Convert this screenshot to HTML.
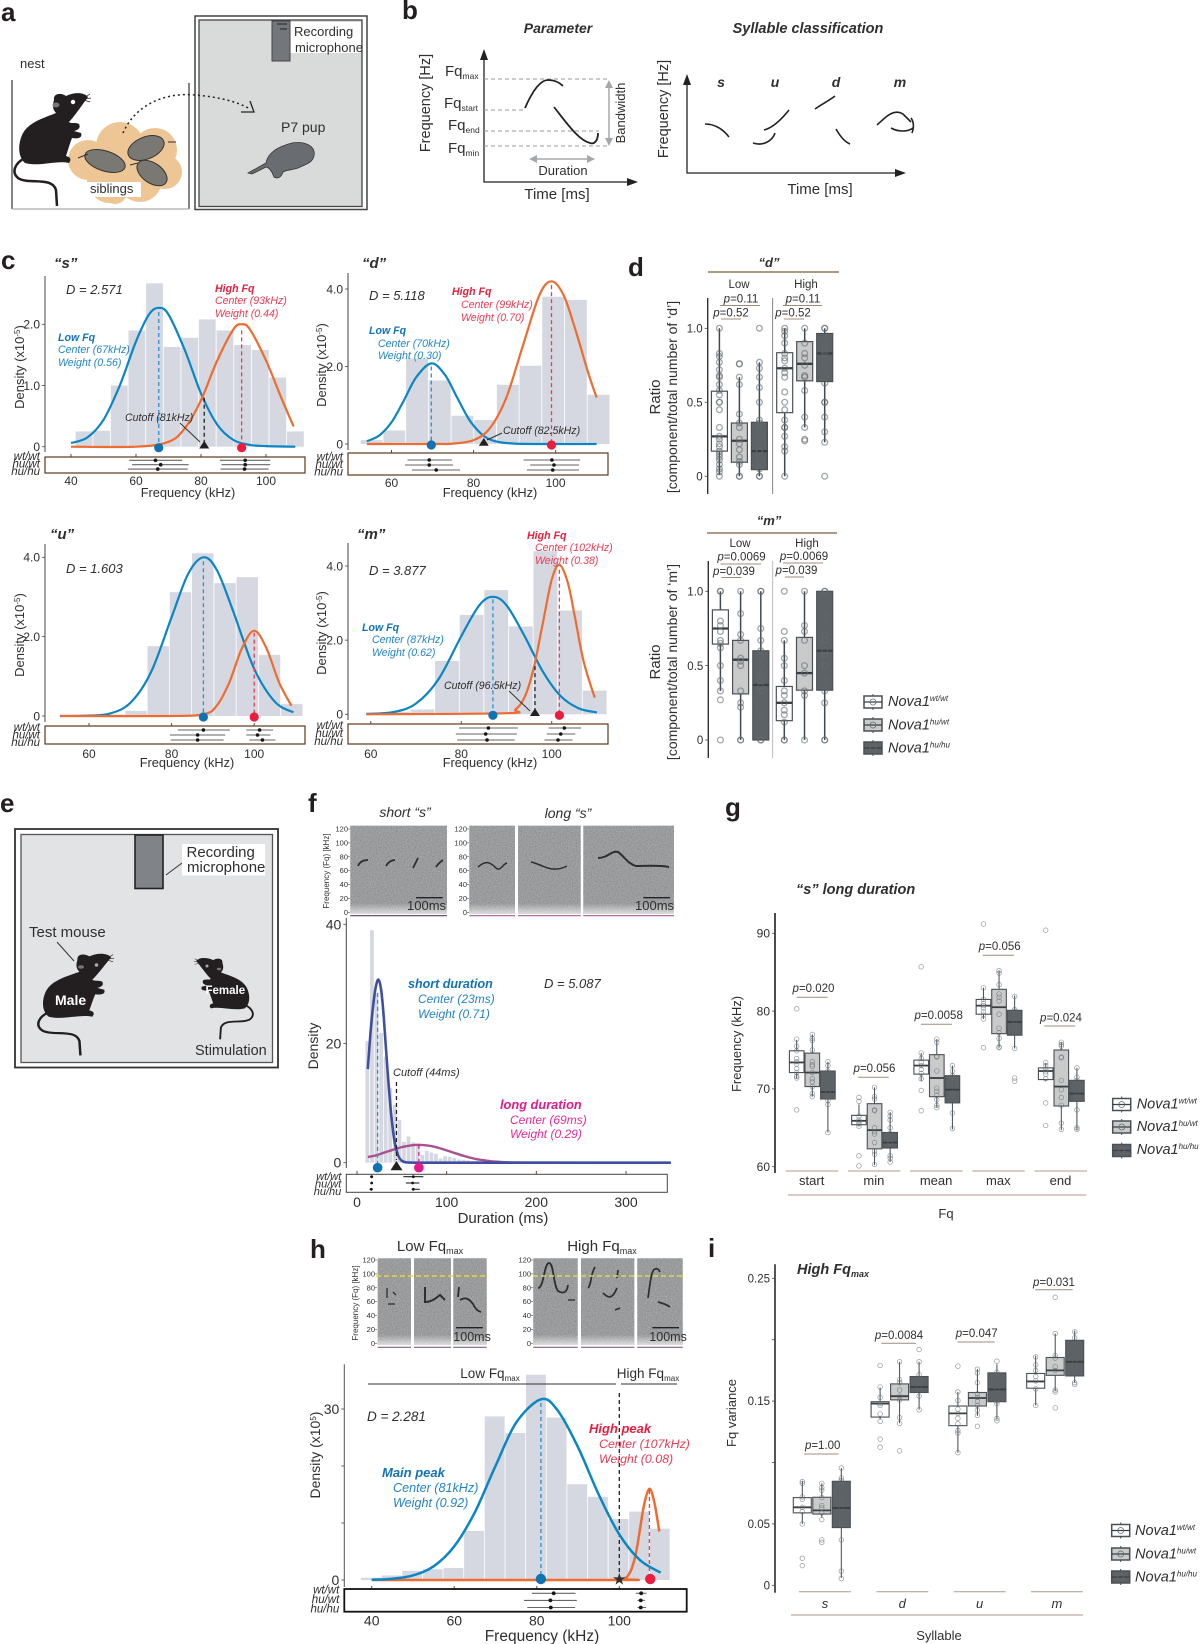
<!DOCTYPE html>
<html lang="en"><head><meta charset="utf-8"><title>Nova1 vocalization figure</title>
<style>
html,body{margin:0;padding:0;background:#fff}
svg{display:block;font-family:"Liberation Sans",sans-serif;fill:#2f2f2f}
.pl{font-size:26px;font-weight:700;fill:#231f20}
.i{font-style:italic}.b{font-weight:700}
.blue{fill:#2384c6}.blueb{fill:#1272b8}.red{fill:#ee3a52}.redb{fill:#ec1c3c}.pink{fill:#ec2a97}.pinkb{fill:#e6188a}
</style></head><body>
<svg id="figure" xmlns="http://www.w3.org/2000/svg" width="1200" height="1644" viewBox="0 0 1200 1644">
<defs>
<filter id="noise" x="0" y="0" width="100%" height="100%"><feTurbulence type="fractalNoise" baseFrequency="0.8" numOctaves="2" seed="3"/><feColorMatrix type="matrix" values="1 0 0 0 0 1 0 0 0 0 1 0 0 0 0 0 0 0 0 1"/></filter>
<linearGradient id="specfade" x1="0" y1="0" x2="0" y2="1"><stop offset="0.88" stop-color="#fff" stop-opacity="0"/><stop offset="1" stop-color="#fff" stop-opacity="0.65"/></linearGradient>
<g id="mouse-shape"><path d="M88,97 C84,92 74,92 66,96 C60,92 53,94 54,100 C52,106 53,110 56,113 C44,118 28,122 22,135 C17,147 19,158 25,163 C40,167 56,160 69,163 C72,159 70,157 66,156 C68,150 70,143 72,138 C77,139 83,138 81,133 L74,131 C78,130 81,128 79,124 C75,122 71,124 69,122 C73,118 80,108 88,97 Z" fill="#231f20"/><path d="M25,158 C15,163 11,172 18,178 C28,185 52,176 56,190 L57,206" fill="none" stroke="#231f20" stroke-width="2.5"/><path d="M84,98l6,-4M84,99l7,-1M84,100l6,2" fill="none" stroke="#231f20" stroke-width=".7"/></g>
</defs>

<!-- panel a -->
<g>
<text class="pl" x="1" y="21">a</text>
<text x="20" y="68" font-size="13">nest</text>
<path d="M12,80V209M189,83V209" fill="none" stroke="#444" stroke-width="1.3"/>
<path d="M12,209H189" fill="none" stroke="#aaa" stroke-width="1.2"/>
<g fill="#eec695"><circle cx="88" cy="160" r="20"/><circle cx="120" cy="146" r="24"/><circle cx="155" cy="150" r="22"/><circle cx="165" cy="172" r="17"/><circle cx="110" cy="180" r="23"/><circle cx="140" cy="180" r="22"/><circle cx="115" cy="192" r="12"/></g>
<use href="#mouse-shape"/>
<circle cx="73" cy="102" r="2.2" fill="#fff"/>
<ellipse cx="56" cy="105" rx="3.5" ry="2.5" fill="#77797c"/>
<g fill="#7a7873" stroke="#333" stroke-width="1">
<ellipse cx="105" cy="161" rx="21" ry="10" transform="rotate(18 105 161)"/><ellipse cx="146" cy="148" rx="19" ry="11" transform="rotate(-22 146 148)"/><ellipse cx="152" cy="173" rx="17" ry="10" transform="rotate(35 152 173)"/>
<path d="M78,158L88,154M168,142L176,142M130,165L138,163" fill="none"/></g>
<rect x="86" y="182" width="55" height="15" fill="#fff"/>
<text x="90" y="193" font-size="13">siblings</text>
<rect x="195" y="16" width="172" height="193.5" fill="#fff" stroke="#444" stroke-width="1.5"/>
<rect x="199" y="20" width="163" height="186.5" fill="#d9dbdb" stroke="#444" stroke-width="1.3"/>
<rect x="290" y="22" width="71" height="31" fill="#fff"/>
<rect x="272" y="21" width="18" height="40" fill="#73777c" stroke="#444"/>
<path d="M277,24H287M280,29H287" stroke="#222"/>
<text x="294" y="36" font-size="13">Recording</text>
<text x="295" y="52" font-size="13">microphone</text>
<text x="281" y="132" font-size="14">P7 pup</text>
<path d="M248,173L266,163C268,152 280,146 292,143C305,141 316,146 314,156C312,164 303,165 298,168C292,170 286,170 283,172C281,178 277,179 274,177C272,172 270,168 266,167L252,174Z" fill="#696d72" stroke="#333" stroke-width=".8"/>
<path d="M123,133C135,105 165,92 195,95C220,97 238,102 250,109" fill="none" stroke="#222" stroke-width="1.5" stroke-dasharray="2 3"/>
<path d="M250,101L254,112H241" fill="none" stroke="#222" stroke-width="1.3"/>
</g>

<!-- panel b -->
<g>
<text class="pl" x="402" y="19">b</text>
<text class="i b" x="558" y="33" font-size="14" text-anchor="middle">Parameter</text>
<path d="M484,54V182H632" fill="none" stroke="#222" stroke-width="1.3"/>
<polygon points="484,49 480,60 488,60" fill="#222"/>
<polygon points="638,182 627,178 627,186" fill="#222"/>
<text transform="rotate(-90 430 103)" x="430" y="103" font-size="14.5" text-anchor="middle">Frequency [Hz]</text>
<text x="445" y="76" font-size="15">Fq<tspan font-size="8.5" dy="3">max</tspan></text>
<text x="444" y="108" font-size="15">Fq<tspan font-size="8.5" dy="3">start</tspan></text>
<text x="448" y="130" font-size="15">Fq<tspan font-size="8.5" dy="3">end</tspan></text>
<text x="448" y="153" font-size="15">Fq<tspan font-size="8.5" dy="3">min</tspan></text>
<path d="M484,79H609M484,110H523M484,131H599M484,146H607" stroke="#999" stroke-dasharray="4 3" fill="none"/>
<path d="M525,108C532,92 540,80 548,80C555,80 560,83 563,86" fill="none" stroke="#222" stroke-width="1.8"/>
<path d="M554,107C566,122 578,140 590,143C596,145 598,138 598,133" fill="none" stroke="#222" stroke-width="1.8"/>
<path d="M609,84V142" stroke="#a5a8ab" stroke-width="1.5"/>
<path d="M609,80l-4,8h8zM609,146l-4,-8h8z" fill="#a5a8ab"/>
<text transform="rotate(-90 625 113)" x="625" y="113" font-size="13" text-anchor="middle">Bandwidth</text>
<path d="M533,159H591" stroke="#a5a8ab" stroke-width="1.5"/>
<path d="M529,159l8,-4v8zM595,159l-8,-4v8z" fill="#a5a8ab"/>
<text x="563" y="175" font-size="13" text-anchor="middle">Duration</text>
<text x="557" y="199" font-size="15" text-anchor="middle">Time [ms]</text>
<text class="i b" x="808" y="33" font-size="14.5" text-anchor="middle">Syllable classification</text>
<path d="M687,80V173H900" fill="none" stroke="#222" stroke-width="1.3"/>
<polygon points="687,74 683,85 691,85" fill="#222"/>
<polygon points="906,173 895,169 895,177" fill="#222"/>
<text transform="rotate(-90 668 109)" x="668" y="109" font-size="14.5" text-anchor="middle">Frequency [Hz]</text>
<text x="820" y="194" font-size="15" text-anchor="middle">Time [ms]</text>
<text class="i b" x="721" y="87" font-size="14" text-anchor="middle">s</text>
<text class="i b" x="775" y="87" font-size="14" text-anchor="middle">u</text>
<text class="i b" x="836" y="87" font-size="14" text-anchor="middle">d</text>
<text class="i b" x="900" y="87" font-size="14" text-anchor="middle">m</text>
<g fill="none" stroke="#222" stroke-width="1.6">
<path d="M705,124C714,124 722,128 729,137"/><path d="M753,143C762,146 772,142 775,133"/><path d="M764,130C772,128 781,120 789,110"/>
<path d="M815,109C822,104 830,100 835,96"/><path d="M836,129C840,136 845,142 850,144"/>
<path d="M877,125C885,118 893,108 903,114C907,118 909,120 911,122"/><path d="M891,128C898,132 908,132 913,128M911,118C914,122 914,128 912,133"/></g>
</g>

<!-- panel c annotations -->
<text class="pl" x="1" y="269">c</text>
<g id="c-s"></g>
<g id="c-d"></g>
<g id="c-u"></g>
<g id="c-m"></g>
<g font-size="10.6" font-style="italic">
<text class="b" x="54" y="268" font-size="15">“s”</text>
<text x="66" y="294" font-size="13">D = 2.571</text>
<text class="redb b" x="215" y="292">High Fq</text>
<text class="red" x="215" y="304">Center (93kHz)</text>
<text class="red" x="215" y="317">Weight (0.44)</text>
<text class="blueb b" x="58" y="341">Low Fq</text>
<text class="blue" x="58" y="353">Center (67kHz)</text>
<text class="blue" x="58" y="366">Weight (0.56)</text>
<text x="125" y="421">Cutoff (81kHz)</text>
<path d="M180,423L200,442" stroke="#333" fill="none"/>
<text class="b" x="362" y="268" font-size="15">“d”</text>
<text x="369" y="300" font-size="13">D = 5.118</text>
<text class="redb b" x="452" y="295">High Fq</text>
<text class="red" x="461" y="308">Center (99kHz)</text>
<text class="red" x="461" y="321">Weight (0.70)</text>
<text class="blueb b" x="369" y="334">Low Fq</text>
<text class="blue" x="378" y="347">Center (70kHz)</text>
<text class="blue" x="378" y="359">Weight (0.30)</text>
<text x="503" y="434">Cutoff (82.5kHz)</text>
<path d="M502,433L487,440" stroke="#333" fill="none"/>
<text class="b" x="50" y="539" font-size="15">“u”</text>
<text x="66" y="573" font-size="13">D = 1.603</text>
<text class="b" x="357" y="539" font-size="15">“m”</text>
<text x="369" y="575" font-size="13">D = 3.877</text>
<text class="redb b" x="527" y="539">High Fq</text>
<text class="red" x="535" y="551">Center (102kHz)</text>
<text class="red" x="535" y="564">Weight (0.38)</text>
<text class="blueb b" x="362" y="631">Low Fq</text>
<text class="blue" x="372" y="643">Center (87kHz)</text>
<text class="blue" x="372" y="656">Weight (0.62)</text>
<text x="444" y="689">Cutoff (96.5kHz)</text>
<path d="M509,691L530,711" stroke="#333" fill="none"/>
</g>

<!-- panel d -->
<text class="pl" x="628" y="276">d</text>
<g id="d-top"></g>
<g id="d-bot"></g>
<g id="d-text">
<text class="i b" x="769" y="267" font-size="13" text-anchor="middle">“d”</text>
<path d="M708,272H839" stroke="#7a5c3e" stroke-width="1.3"/>
<text x="739" y="288" font-size="11.5" text-anchor="middle">Low</text>
<text x="806" y="288" font-size="11.5" text-anchor="middle">High</text>
<text transform="rotate(-90 660 397)" x="660" y="397" font-size="15" text-anchor="middle">Ratio</text>
<text transform="rotate(-90 677 397)" x="677" y="397" font-size="14" text-anchor="middle">[component/total number of ‘d’]</text>
<text class="i b" x="769" y="525" font-size="13" text-anchor="middle">“m”</text>
<path d="M707,533H837" stroke="#7a5c3e" stroke-width="1.3"/>
<text x="740" y="547" font-size="11.5" text-anchor="middle">Low</text>
<text x="807" y="547" font-size="11.5" text-anchor="middle">High</text>
<text transform="rotate(-90 660 662)" x="660" y="662" font-size="15" text-anchor="middle">Ratio</text>
<text transform="rotate(-90 677 662)" x="677" y="662" font-size="14" text-anchor="middle">[component/total number of ‘m’]</text>
</g>

<!-- panel e -->
<g>
<text class="pl" x="0" y="812">e</text>
<rect x="15" y="829" width="263" height="238.5" fill="#fff" stroke="#333" stroke-width="1.8"/>
<rect x="21" y="834.5" width="251.5" height="228" fill="#e2e3e5" stroke="#555" stroke-width="1.3"/>
<rect x="135" y="835" width="28" height="53.5" fill="#808488" stroke="#222" stroke-width="1.6"/>
<path d="M166,875L182,863" stroke="#333"/>
<rect x="182" y="844" width="83" height="31.5" fill="#fff"/>
<text x="186.5" y="857" font-size="15">Recording</text>
<text x="187" y="872" font-size="15">microphone</text>
<text x="29" y="937" font-size="15">Test mouse</text>
<path d="M57,942L74,961" stroke="#333"/>
<use href="#mouse-shape" transform="translate(24 870) scale(.99 .9)"/>
<use href="#mouse-shape" transform="translate(264 891) scale(-.77 .72)"/>
<circle cx="96.5" cy="965" r="1.8" fill="#a9acae"/>
<ellipse cx="81" cy="967" rx="3" ry="1.8" fill="#777"/>
<circle cx="207" cy="966" r="1.5" fill="#a9acae"/>
<ellipse cx="219" cy="969" rx="2.2" ry="1.3" fill="#777"/>
<text class="b" x="55" y="1005" font-size="14" style="fill:#fff">Male</text>
<text class="b" x="205.5" y="994" font-size="11.5" style="fill:#fff">Female</text>
<text x="195" y="1055" font-size="14.5">Stimulation</text>
</g>

<!-- panel f -->
<text class="pl" x="308" y="812">f</text>
<g id="f-spec"></g>
<g id="f-chart"></g>
<g>
<text class="i" x="405" y="817" font-size="14" text-anchor="middle">short “s”</text>
<text class="i" x="568" y="818" font-size="14" text-anchor="middle">long “s”</text>
<g fill="none" stroke="#2e2e2e" stroke-width="1.8"><path d="M358,866C360,861 364,860 368,860"/><path d="M386,866C388,862 392,860 395,860"/><path d="M413,868C415,864 417,860 418,858"/><path d="M436,867C438,864 440,862 443,860"/></g>
<g fill="none" stroke="#2e2e2e" stroke-width="1.5"><path d="M478,867C486,860 490,862 496,868C500,872 503,864 507,863"/><path d="M531,862C540,864 548,870 556,869C562,869 565,867 567,866"/><path d="M598,858C608,858 612,850 618,852C624,856 628,864 636,866C646,866 658,865 669,867" stroke-width="2"/></g>
<text class="i b blueb" x="408" y="988" font-size="12.5">short duration</text>
<text class="i blue" x="418" y="1003" font-size="12">Center (23ms)</text>
<text class="i blue" x="418" y="1018" font-size="12">Weight (0.71)</text>
<text class="i" x="544" y="988" font-size="13">D = 5.087</text>
<text class="i" x="393" y="1076" font-size="11">Cutoff (44ms)</text>
<text class="i b pinkb" x="500" y="1109" font-size="12.8">long duration</text>
<text class="i pink" x="510" y="1124" font-size="12">Center (69ms)</text>
<text class="i pink" x="510" y="1138" font-size="12">Weight (0.29)</text>
<text x="503" y="1223" font-size="15" text-anchor="middle">Duration (ms)</text>
<text transform="rotate(-90 318 1046)" x="318" y="1046" font-size="14" text-anchor="middle">Density</text>
</g>

<!-- panel g -->
<text class="pl" x="725" y="816">g</text>
<text class="i b" x="796" y="894" font-size="14.5">“s” long duration</text>
<g id="g-chart"></g>
<text transform="rotate(-90 741 1044)" x="741" y="1044" font-size="13" text-anchor="middle">Frequency (kHz)</text>
<text x="946" y="1218" font-size="13" text-anchor="middle">Fq</text>
<path d="M788,1195H1086" stroke="#b09a8a"/>

<!-- panel h -->
<text class="pl" x="310" y="1258">h</text>
<g id="h-spec"></g>
<g id="h-chart"></g>
<g>
<text x="430" y="1251" font-size="15" text-anchor="middle">Low Fq<tspan font-size="9" dy="3">max</tspan></text>
<text x="602" y="1251" font-size="15" text-anchor="middle">High Fq<tspan font-size="9" dy="3">max</tspan></text>
<g fill="none" stroke="#2e2e2e" stroke-width="1.3">
<path d="M387,1288V1298M388,1304H395M393,1292L396,1295"/><path d="M425,1287L425,1302C432,1302 436,1298 440,1295L445,1300" stroke-width="2"/><path d="M459,1287L458,1297M460,1300C466,1296 470,1300 473,1304C476,1310 478,1311 481,1312" stroke-width="1.8"/>
<path d="M538,1288C544,1288 544,1263 549,1263C554,1263 553,1285 558,1291C563,1294 567,1293 568,1285" stroke-width="1.8"/><path d="M568,1300H575"/>
<path d="M588,1288C592,1284 590,1275 595,1267M603,1293C608,1298 612,1300 617,1288M618,1270L617,1278M615,1310L620,1308" stroke-width="1.7"/>
<path d="M648,1298C650,1285 651,1270 655,1269C658,1268 659,1270 660,1272M658,1302C662,1303 666,1304 670,1307" stroke-width="1.7"/></g>
<path d="M376,1276H487M533,1276H683" stroke="#e8d638" stroke-width="1.4" stroke-dasharray="5 3" fill="none"/>
<text x="490" y="1378" font-size="13.5" text-anchor="middle">Low Fq<tspan font-size="8" dy="3">max</tspan></text>
<text x="648" y="1378" font-size="13.5" text-anchor="middle">High Fq<tspan font-size="8" dy="3">max</tspan></text>
<path d="M368,1384H616M621,1384H677" stroke="#333" fill="none"/>
<text class="i" x="367" y="1421" font-size="13.5">D = 2.281</text>
<text class="i b blueb" x="382" y="1477" font-size="13">Main peak</text>
<text class="i blue" x="393" y="1492" font-size="12.6">Center (81kHz)</text>
<text class="i blue" x="393" y="1507" font-size="12.6">Weight (0.92)</text>
<text class="i b redb" x="589" y="1433" font-size="13">High peak</text>
<text class="i red" x="599" y="1448" font-size="12.4">Center (107kHz)</text>
<text class="i red" x="599" y="1463" font-size="12.4">Weight (0.08)</text>
<text x="542" y="1641" font-size="15.5" text-anchor="middle">Frequency (kHz)</text>
<text transform="rotate(-90 320 1455)" x="320" y="1455" font-size="14" text-anchor="middle">Density (x10<tspan font-size="8" dy="-4">5</tspan><tspan dy="4">)</tspan></text>
</g>

<!-- panel i -->
<text class="pl" x="708" y="1257">i</text>
<text class="i b" x="797" y="1274" font-size="14.5">High Fq<tspan font-size="9" dy="3">max</tspan></text>
<g id="i-chart"></g>
<text transform="rotate(-90 736 1413)" x="736" y="1413" font-size="13" text-anchor="middle">Fq variance</text>
<text x="939" y="1640" font-size="13" text-anchor="middle">Syllable</text>
<path d="M791,1615H1083" stroke="#b09a8a"/>
</svg>

<script>
/* ---------- density panel data (kHz, density x10^-5) ---------- */
const sBinStart = 41.3;
const sBinWidth = 5.42;
const sBars = [0.25,0.26,1.0,1.9,2.67,1.63,1.78,2.08,1.9,1.66,1.58,1.13,0.25];
const sLowFreq = [40,45,50,55,60,64,67,70,75,80,85,90,95,100,109];
const sLowDens = [0.06,0.15,0.44,1.0,1.72,2.16,2.27,2.16,1.58,0.87,0.36,0.11,0.03,0.01,0];
const sHighFreq = [40,60,70,75,80,85,90,92.5,95,100,105,108.5];
const sHighDens = [0,0,0.08,0.3,0.76,1.41,1.92,2.0,1.92,1.41,0.76,0.33];
const sXTicks = [40,60,80,100];
const sYTicks = [0,1,2];
const sYLabels = ['0','1.0','2.0'];
const sStripLow = [[57.9,66,74.2],[58.8,67.6,76.2],[57.5,66.7,75.9]];
const sStripHigh = [[85.8,93.6,101.3],[86.3,93.6,101.3],[86,93.4,100.8]];

const dBinStart = 52.4;
const dBinWidth = 5.53;
const dBars = [0.1,0.35,2.2,1.64,0.73,0.62,1.53,2.02,3.8,3.72,1.27];
const dLowFreq = [54,57,60,63,66,69.7,73,76,79,82,85,90,100,110];
const dLowDens = [0.07,0.22,0.56,1.12,1.72,2.08,1.79,1.2,0.62,0.25,0.08,0.01,0,0];
const dHighFreq = [54,70,75,80,84,88,92,96,99,102,105,108,110];
const dHighDens = [0,0,0.01,0.1,0.41,1.2,2.53,3.83,4.2,3.83,2.89,1.82,1.2];
const dXTicks = [60,80,100];
const dYTicks = [0,2,4];
const dYLabels = ['0','2.0','4.0'];
const dStripLow = [[63.9,69.2,74.7],[63.3,69.2,75],[65,70.9,76.7]];
const dStripHigh = [[92.2,99.1,106],[93.8,99.6,105.7],[93,99.3,105.7]];

const uBinStart = 57.9;
const uBinWidth = 5.39;
const uBars = [0.04,0.04,0.13,1.76,3.12,4.1,3.35,3.5,1.54,0.3];
const uLowFreq = [53,60,65,70,75,80,84,87.7,91,95,100,105,109.5];
const uLowDens = [0,0.01,0.06,0.33,1.1,2.49,3.58,4.0,3.67,2.61,1.19,0.36,0.09];
const uHighFreq = [53,80,88,91,94,97,100,103,106,109];
const uHighDens = [0,0,0.05,0.27,0.85,1.7,2.15,1.7,0.85,0.26];
const uXTicks = [60,80,100];
const uYTicks = [0,2,4];
const uYLabels = ['0','2.0','4.0'];
const uStripLow = [[81.5,87.7,94.1],[79.6,86.3,93],[79.8,86.3,92.6]];
const uStripHigh = [[98.1,101.3,104.6],[98.1,100.8,103.9],[98.8,102,105.1]];

const mBinStart = 63.25;
const mBinWidth = 5.44;
const mBars = [0.07,0.13,1.44,2.68,3.35,2.37,4.4,2.8,0.64];
const mLowFreq = [59,65,70,75,80,84,87,90,94,98,102,106,110];
const mLowDens = [0.01,0.06,0.29,0.95,2.11,2.94,3.17,2.94,2.11,1.16,0.49,0.16,0.05];
const mHighFreq = [59,90,92,94,96,98,100,101.7,103.5,105,107,109.5];
const mHighDens = [0,0.03,0.13,0.46,1.23,2.44,3.63,4.03,3.58,2.71,1.45,0.45];
const mXTicks = [60,80,100];
const mYTicks = [0,2,4];
const mYLabels = ['0','2.0','4.0'];
const mStripLow = [[79.5,86,92.5],[78.8,85.4,92.3],[79.1,85.7,91.8]];
const mStripHigh = [[99.3,102.8,106.5],[98.9,102,105.2],[98.4,101.4,104.6]];

/* ---------- duration (panel f) ---------- */
const fBinStart = 9;
const fBinWidth = 5.1;
const fBars = [20.4,39,28.4,21.8,17.8,12.5,9.7,7.2,3.5,4.4,3.4,3.0,1.3,2,1.7,1.5,0.7,1.1,1,0.8,0.55,0.5,0.4,0.3,0.3,0.2,0.15,0.1];
const fShortMs = [12,15,18,21,24,27,30,34,38,42,46,50,55,60,70,100,200,350];
const fShortDens = [15.7,21.6,26.3,29.5,30.7,28.9,24.1,15.6,8.2,3.4,1.16,0.32,0.05,0.01,0,0,0,0];
const fLongMs = [12,20,30,40,50,60,69,80,90,100,110,120,130,140,150,165,180,200,350];
const fLongDens = [0.95,1.19,1.67,2.17,2.61,2.9,3,2.86,2.53,2.07,1.57,1.1,0.71,0.43,0.24,0.09,0.03,0.01,0];
const fXTicks = [0,100,200,300];
const fYTicks = [0,20,40];
const fStrip = [[14.5,16.4,18],[15,16.4,17.5],[14,16,17.5]];
const fStripLong = [[51.7,62.8,74],[54.6,62,69.5],[61,62.8,70]];

/* ---------- Fq max (panel h) ---------- */
const hBinStart = 37.3;
const hBinWidth = 5;
const hBars = [0.4,0.8,1.6,1.9,2.1,8.6,28.7,25.8,36,28.5,16.8,14.6,10.7,12,9];
const hMainFreq = [40,45,50,55,60,65,70,75,81,85,90,95,100,105,110];
const hMainDens = [0.05,0.22,0.81,2.4,5.9,11.9,20,27.6,31.7,29.8,23.3,15,8,3.5,1.3];
const hPeakFreq = [40,100,101,102,103,104,105,106,107.3,108.5,109.7];
const hPeakDens = [0,0,0.15,0.65,2,4.6,8.8,13.2,16,13.6,8.5];
const hXTicks = [40,60,80,100];
const hYTicks = [0,30];
const hStripMain = [[78.8,84.1,89.4],[76.9,83.3,89.7],[77.7,83.4,89.3]];
const hStripPeak = [[104,105.3,106.6],[104.4,105.2,106.2],[104.4,105.2,106.5]];

/* ---------- shared labels ---------- */
const genotypeRows = ['wt/wt','hu/wt','hu/hu'];
const specTicks = [0,20,40,60,80,100,120];

/* ---------- ratio boxplot 'd' (Low wt,hu/wt,hu/hu, High wt,hu/wt,hu/hu) ---------- */
const ratioDQ1 = [0.17,0.095,0.045,0.43,0.645,0.64];
const ratioDMed = [0.27,0.24,0.17,0.73,0.76,0.83];
const ratioDQ3 = [0.575,0.36,0.365,0.835,0.91,0.965];
const ratioDLo = [0.01,0,0,0,0.33,0.23];
const ratioDHi = [1,0.67,0.77,1,1,1];
const ratioDPts = [
[0,0.03,0.05,0.08,0.11,0.13,0.15,0.17,0.2,0.22,0.25,0.27,0.33,0.45,0.5,0.5,0.55,0.58,0.62,0.67,0.68,0.72,0.77,0.81,0.83,1],
[0,0,0.08,0.1,0.13,0.18,0.22,0.25,0.33,0.36,0.42,0.62,0.67,0.76,0.76],
[0,0,0.05,0.1,0.17,0.17,0.25,0.33,0.36,0.38,0.5,0.6,0.67,0.73,0.77,1],
[0,0.17,0.2,0.27,0.33,0.33,0.38,0.45,0.5,0.57,0.67,0.7,0.73,0.78,0.8,0.83,0.9,0.95,0.98,1],
[0.24,0.25,0.33,0.4,0.58,0.67,0.68,0.75,0.8,0.83,0.9,1],
[0,0.23,0.3,0.4,0.5,0.5,0.63,0.67,0.75,0.83,0.85,0.9,1,1]];
/* ---------- ratio boxplot 'm' ---------- */
const ratioMQ1 = [0.645,0.31,0,0.13,0.335,0.335];
const ratioMMed = [0.75,0.54,0.37,0.25,0.45,0.6];
const ratioMQ3 = [0.875,0.67,0.6,0.36,0.69,1];
const ratioMLo = [0.33,0,0,0,0,0];
const ratioMHi = [1,1,1,0.67,1,1];
const ratioMPts = [
[0,0.27,0.33,0.4,0.5,0.62,0.65,0.67,0.73,0.77,0.8,1,1],
[0,0,0.22,0.25,0.33,0.5,0.53,0.55,0.67,0.71,0.85,1],
[0,0,0.17,0.33,0.36,0.4,0.43,0.5,0.56,0.6,0.67,0.75,1,1],
[0,0,0.12,0.17,0.2,0.25,0.3,0.33,0.4,0.5,0.55,0.67,0.73,1],
[0,0.3,0.33,0.45,0.5,0.67,0.73,0.77,1],
[0,0,0.25,0.33,0.4,0.5,0.5,0.57,0.6,0.67,0.67,0.71,0.83,1,1]];
const ratioTicks = [0,0.5,1];
const ratioLabels = ['0','0.5','1.0'];

/* ---------- panel g ---------- */
const fqCategories = ['start','min','mean','max','end'];
const fqQ1 = [72.1,70.3,68.7, 65.4,62.3,62.4, 71.9,69,68.2, 79.6,77.1,76.9, 71.2,67.8,68.4];
const fqMed = [73.4,72.1,69.6, 65.9,64.7,63.1, 73,71.4,69.9, 80.7,80.5,78.6, 72.3,70.3,69.4];
const fqQ3 = [74.9,74.6,72.3, 66.6,68.1,64.4, 73.7,74.4,71.7, 81.5,82.8,80.1, 72.7,75,71.1];
const fqLo = [71.3,69,64.4, 65.2,60.2,60.6, 71,67.6,64.8, 79,75.3,75.2, 71,64.7,64.7];
const fqHi = [76.3,77,73.5, 68,70.2,67, 74.6,76.4,73, 83,85.2,82, 73.3,76,72.7];
const fqPts = [
[80.3,76.4,75.5,74.9,73.9,73.5,73.2,72.6,72.1,71.6,71.4,67.3],
[77,76.5,76.2,75,73.5,73.1,72.9,72.1,71.3,70.9,70.3,69.4,69],
[73.5,73,72.3,71.2,69.6,69.1,68.5,68,64.4],
[68.9,68.4,66.5,66,65.8,65.5,65.2,61.4,60.1],
[70.2,69,68.7,67.3,67.2,65,64.5,64.2,63.1,62,61.6,60.3],
[67,66.5,66,65,64.3,63.1,63,61.4,61.1,60.6],
[85.7,74.6,73.9,73.4,73,72.5,72,71.3,69.8,67.2],
[76.4,76,74.2,74.1,72.3,70.1,69.7,69.2,68.6,67.9,67.6],
[73,72.3,71.7,71.5,69.5,69.2,66.9,64.9],
[91.2,83,81.5,81,80.7,80.4,79.9,79.5,79,75.3],
[85.2,84.9,83.4,82.2,81.8,81.3,79.6,77.8,77.2,76.5,75.3,75.4],
[81.9,80.2,80,78.7,78.2,77.6,75.2,71.4,71],
[90.4,73.4,73,72.5,72.2,71.9,71.3,68.2,65.3],
[76,75.7,75.5,74.1,74,71.1,69.9,68.9,67.9,65.6,64.8],
[72.7,71.5,71.1,69.9,69.3,69,67.3,65,64.8]];
const fqTicks = [60,70,80,90];

/* ---------- panel i ---------- */
const sylCategories = ['s','d','u','m'];
const varQ1 = [0.059,0.058,0.047, 0.137,0.151,0.157, 0.13,0.146,0.1495, 0.1605,0.171,0.1705];
const varMed = [0.0635,0.061,0.063, 0.148,0.154,0.1615, 0.14,0.1525,0.1595, 0.166,0.175,0.182];
const varQ3 = [0.0714,0.0717,0.0847, 0.1495,0.164,0.17, 0.146,0.157,0.173, 0.1725,0.1855,0.1995];
const varLo = [0.05,0.055,0.006, 0.135,0.132,0.143, 0.108,0.138,0.135, 0.1465,0.158,0.165];
const varHi = [0.085,0.083,0.0955, 0.161,0.182,0.182, 0.1575,0.176,0.18, 0.187,0.205,0.2075];
const varPts = [
[0.0844,0.083,0.072,0.07,0.0635,0.06,0.05,0.022,0.016],
[0.083,0.0795,0.0775,0.0715,0.065,0.063,0.059,0.0535,0.037,0.035],
[0.0955,0.0875,0.0855,0.0815,0.0705,0.063,0.0525,0.05,0.037,0.0115,0.0055],
[0.179,0.1615,0.153,0.148,0.1465,0.1395,0.1335,0.119,0.1125],
[0.182,0.1675,0.165,0.159,0.154,0.151,0.1365,0.132,0.1095],
[0.192,0.182,0.1715,0.1665,0.1615,0.154,0.143],
[0.1785,0.1575,0.1505,0.1435,0.14,0.136,0.1315,0.126,0.124,0.108],
[0.176,0.173,0.165,0.156,0.153,0.15,0.1465,0.1425,0.1385,0.1295],
[0.1825,0.1735,0.171,0.1595,0.15,0.148,0.136,0.134],
[0.186,0.1795,0.175,0.17,0.1665,0.16,0.1465],
[0.2345,0.205,0.187,0.185,0.178,0.175,0.159,0.1575,0.1445],
[0.2065,0.2015,0.1955,0.1825,0.1775,0.172,0.165,0.1635]];
const varTicks = [0,0.05,0.15,0.25];
const varLabels = ['0','0.05','0.15','0.25'];

/* ---------- helpers ---------- */
const NS = 'http://www.w3.org/2000/svg';
const C = {blue:'#0a86c4',orange:'#ee6c2f',dashBlue:'#2a8fd6',dashRed:'#ee3a55',dotBlue:'#0f72b5',dotRed:'#ed1c3c',bar:'#d6d8e1',navy:'#3f4f9f',plum:'#a9508f',pink:'#e6188a'};
const FILL = ['#ffffff','#c9cbca','#5d6266'];
function make(tag, attrs, parent){
  const n = document.createElementNS(NS, tag);
  for (const k in attrs) n.setAttribute(k, attrs[k]);
  parent.appendChild(n);
  return n;
}
function scale(d0,d1,r0,r1){ return v => r0 + (v-d0)*(r1-r0)/(d1-d0); }
function smoothPath(xs, ys){
  const n = xs.length;
  let d = 'M'+xs[0].toFixed(1)+','+ys[0].toFixed(1);
  for (let i=0;i<n-1;i++){
    const x0=xs[Math.max(i-1,0)], y0=ys[Math.max(i-1,0)], x1=xs[i], y1=ys[i], x2=xs[i+1], y2=ys[i+1], x3=xs[Math.min(i+2,n-1)], y3=ys[Math.min(i+2,n-1)];
    d += 'C'+(x1+(x2-x0)/6).toFixed(1)+','+(y1+(y2-y0)/6).toFixed(1)+' '+(x2-(x3-x1)/6).toFixed(1)+','+(y2-(y3-y1)/6).toFixed(1)+' '+x2.toFixed(1)+','+y2.toFixed(1);
  }
  return d;
}
function addText(parent, x, y, str, size, anchor, italic){
  const t = make('text',{x:x,y:y,'font-size':size,'text-anchor':anchor||'start'},parent);
  if (italic) t.setAttribute('font-style','italic');
  t.textContent = str;
  return t;
}
function drawBars(g, xs, ys, start, width, values){
  values.forEach((v,i)=>{
    const x0 = xs(start+i*width), x1 = xs(start+(i+1)*width);
    const r = make('rect',{x:x0+0.4,y:ys(v),width:Math.max(x1-x0-0.8,0.5),height:ys(0)-ys(v),fill:C.bar},g);
    
    
  });
}
function drawCurve(g, xs, ys, f, d, color, w, name){
  const p = make('path',{d:smoothPath(f.map(xs),d.map(ys)),fill:'none',stroke:color,'stroke-width':w},g);
  
  
}
function drawDash(g, x, yTop, yBot, color, name){
  const l = make('line',{x1:x,x2:x,y1:yTop,y2:yBot,stroke:color,'stroke-width':1.3,'stroke-dasharray':'4 3'},g);
  
  
}
function drawDot(g, x, y, r, color, name){
  const c = make('circle',{cx:x,cy:y,r:r,fill:color},g);
  
  
}
function drawTriangle(g, x, y, s){
  const t = make('polygon',{points:(x)+','+(y-s)+' '+(x-s)+','+(y+s*0.55)+' '+(x+s)+','+(y+s*0.55),fill:'#231f20'},g);
  
  
}
function drawAxisLine(g, x1,y1,x2,y2,color,w,name){
  const l = make('line',{x1:x1,y1:y1,x2:x2,y2:y2,stroke:color,'stroke-width':w},g);
  
  
}
function drawYTicks(g, ys, axisX, ticks, labels, size, name){
  ticks.forEach((v,i)=>{
    drawAxisLine(g, axisX-3, ys(v), axisX, ys(v), '#444', 0.8, name+'-tick');
    const t = addText(g, axisX-5, ys(v)+size*0.36, labels[i], size, 'end');
    
    
  });
}
function drawStrip(g, cfg, xs, groups){
  const r = make('rect',{x:cfg.x0,y:cfg.y0,width:cfg.x1-cfg.x0,height:cfg.y1-cfg.y0,fill:'#fff',stroke:cfg.stroke,'stroke-width':cfg.sw},g);
  
  
  groups.forEach(rows=>rows.forEach((row,i)=>{
    const y = cfg.rows[0]+(cfg.rows[1]-cfg.rows[0])*i;
    drawAxisLine(g, xs(row[0]), y, xs(row[2]), y, cfg.line, 1.1, 'summary-interval-'+genotypeRows[i]);
    drawDot(g, xs(row[1]), y, cfg.dot, '#151515', 'summary-mean-'+genotypeRows[i]);
  }));
  genotypeRows.forEach((lab,i)=>{
    const t = addText(g, cfg.x0-5, cfg.lab[0]+(cfg.lab[1]-cfg.lab[0])*i, lab, cfg.labSize, 'end', true);
    
    
  });
}
function drawXLabels(g, xs, ticks, y, size, yTick0, yTick1){
  ticks.forEach(v=>{
    drawAxisLine(g, xs(v), yTick0, xs(v), yTick1, '#6b4a2c', 1, 'x-axis-tick');
    const t = addText(g, xs(v), y, String(v), size, 'middle');
    
    
  });
}
function drawDensity(c){
  const g = document.getElementById(c.id), xs = c.xs, ys = c.ys, y0 = ys(0);
  drawBars(g, xs, ys, c.binStart, c.binWidth, c.bars);
  drawAxisLine(g, c.axisX, c.axisTop, c.axisX, c.axisBot, c.axisColor, c.axisW, 'y-axis');
  drawYTicks(g, ys, c.axisX, c.yTicks, c.yLabels, 12, 'y-axis');
  drawCurve(g, xs, ys, c.lowF, c.lowD, C.blue, 2.2, 'low-fq-curve');
  drawCurve(g, xs, ys, c.highF, c.highD, C.orange, 2.2, 'high-fq-curve');
  drawDash(g, xs(c.lowC), ys(c.lowTop), y0, C.dashBlue, 'low-fq-center-line');
  drawDash(g, xs(c.highC), ys(c.highTop), y0, C.dashRed, 'high-fq-center-line');
  if (c.cut !== null){
    if (c.cutTop !== null) drawDash(g, xs(c.cut), ys(c.cutTop), y0, '#222', 'cutoff-line');
    drawTriangle(g, xs(c.cut), y0-1, 5);
  }
  drawDot(g, xs(c.lowC), y0+1, 4.6, C.dotBlue, 'low-fq-center-dot');
  drawDot(g, xs(c.highC), y0+1, 4.6, C.dotRed, 'high-fq-center-dot');
  drawXLabels(g, xs, c.xTicks, c.tickY, 12, c.strip.y0-3, c.strip.y0);
  drawStrip(g, c.strip, xs, [c.stripLow, c.stripHigh]);
  const xt = addText(g, c.titleX, c.titleY, 'Frequency (kHz)', 12.8, 'middle');
  
  
  const yt = make('text',{x:c.dx,y:c.dy,transform:'rotate(-90 '+c.dx+' '+c.dy+')','font-size':13,'text-anchor':'middle'},g);
  
  
  yt.textContent = 'Density (x10';
  const sup = make('tspan',{'font-size':8,dy:-4},yt); sup.textContent = '-5';
  const end = make('tspan',{dy:4},yt); end.textContent = ')';
}
function drawBoxes(g, cfg, q1, med, q3, lo, hi, pts){
  const ys = cfg.ys;
  q1.forEach((_,i)=>{
    const group = Math.floor(i/3), geno = i%3;
    const x = cfg.start + cfg.groupStep*group + cfg.boxStep*geno;
    const w = cfg.boxW;
    drawAxisLine(g, x, ys(hi[i]), x, ys(lo[i]), '#3f4a50', cfg.wh, 'box-whisker');
    const r = make('rect',{x:x-w/2,y:ys(q3[i]),width:w,height:ys(q1[i])-ys(q3[i]),fill:FILL[geno],stroke:'#4b5054','stroke-width':cfg.bs},g);
    
    
    drawAxisLine(g, x-w/2, ys(med[i]), x+w/2, ys(med[i]), '#3a3f43', cfg.ms, 'box-median');
    pts[i].forEach(v=>{
      const c = make('circle',{cx:x,cy:ys(v),r:cfg.pr,fill:'none',stroke:'#626b70','stroke-opacity':cfg.po,'stroke-width':cfg.ps},g);
      
      
    });
  });
}
function drawPValue(g, cx, by, x1, x2, ly, value, size){
  const t = addText(g, cx, by, 'p', size, 'middle');
  
  
  t.textContent = '';
  const a = make('tspan',{'font-style':'italic'},t); a.textContent = 'p';
  const b = make('tspan',{},t); b.textContent = '='+value;
  drawAxisLine(g, x1, ly, x2, ly, '#a08c7c', 1, 'p-value-bracket');
}
function drawLegend(parent, xBox, w, tx, tops, baselines, h){
  genotypeRows.forEach((lab,i)=>{
    const y = tops[i];
    drawAxisLine(parent, xBox+w/2, y-2, xBox+w/2, y+h+2, '#3f4a50', 1, 'legend-whisker');
    const r = make('rect',{x:xBox,y:y,width:w,height:h,fill:FILL[i],stroke:'#4b5054','stroke-width':1.5},parent);
    
    
    drawAxisLine(parent, xBox, y+h/2, xBox+w, y+h/2, '#3a3f43', 1.3, 'legend-median');
    const c = make('circle',{cx:xBox+w/2,cy:y+h/2,r:3,fill:'none',stroke:'#626b70','stroke-width':.8},parent);
    
    
    const t = addText(parent, tx, baselines[i], 'Nova1', 14.5, 'start', true);
    
    
    const s = make('tspan',{'font-size':8,dy:-5},t); s.textContent = lab;
  });
}
function drawSpec(g, x0, x1, y0, y1){
  const w = x1-x0, h = y1-y0;
  const a = make('rect',{x:x0,y:y0,width:w,height:h,fill:'#8d8f91'},g);
  
  
  const b = make('rect',{x:x0,y:y0,width:w,height:h,fill:'#fff',filter:'url(#noise)',opacity:.3},g);
  
  
  const c = make('rect',{x:x0,y:y0,width:w,height:h,fill:'url(#specfade)'},g);
  
  
}
function drawSpecAxis(g, xRight, ys){
  specTicks.forEach(v=>{
    const t = addText(g, xRight-2, ys(v)+2.5, String(v), 7.5, 'end');
    
    
    drawAxisLine(g, xRight-2, ys(v), xRight, ys(v), '#555', .6, 'spectrogram-tick');
  });
}
function drawScaleBar(g, x0, x1, y, tx, ty, size){
  drawAxisLine(g, x0, y, x1, y, '#222', 1.3, 'scale-bar');
  const t = addText(g, tx, ty, '100ms', size);
  
  
}
function specYTitle(g, x, y){
  const t = make('text',{x:x,y:y,transform:'rotate(-90 '+x+' '+y+')','font-size':8,'text-anchor':'middle'},g);
  
  
  t.textContent = 'Frequency (Fq) [kHz]';
}
const stripC = (x0,x1,y0,y1,rows,lab)=>({x0,x1,y0,y1,rows,lab,stroke:'#5c3a1e',sw:1.2,line:'#666',dot:1.8,labSize:11.5});

/* ---------- panel c ---------- */
drawDensity({id:'c-s',xs:scale(40,100,71,266),ys:scale(0,2,446.7,324.3),binStart:sBinStart,binWidth:sBinWidth,bars:sBars,
  axisX:45,axisTop:276,axisBot:452,axisColor:'#444',axisW:1,yTicks:sYTicks,yLabels:sYLabels,xTicks:sXTicks,
  lowF:sLowFreq,lowD:sLowDens,highF:sHighFreq,highD:sHighDens,lowC:67,highC:92.5,lowTop:2.2,highTop:1.9,cut:81,cutTop:0.8,
  strip:stripC(45,305,457,473,[460.3,464.7],[460,467.5]),stripLow:sStripLow,stripHigh:sStripHigh,tickY:485,titleX:188,titleY:497,dx:24,dy:367});
drawDensity({id:'c-d',xs:scale(60,100,391.5,555.6),ys:scale(0,4,444,289),binStart:dBinStart,binWidth:dBinWidth,bars:dBars,
  axisX:348,axisTop:273,axisBot:450,axisColor:'#888',axisW:1.6,yTicks:dYTicks,yLabels:dYLabels,xTicks:dXTicks,
  lowF:dLowFreq,lowD:dLowDens,highF:dHighFreq,highD:dHighDens,lowC:69.7,highC:99,lowTop:2,highTop:4.1,cut:82.5,cutTop:null,
  strip:stripC(348,608,453,475,[460,465],[460.5,468]),stripLow:dStripLow,stripHigh:dStripHigh,tickY:487,titleX:490,titleY:497,dx:326,dy:365});
drawDensity({id:'c-u',xs:scale(60,100,89,254.2),ys:scale(0,4,716,557.3),binStart:uBinStart,binWidth:uBinWidth,bars:uBars,
  axisX:45,axisTop:544,axisBot:722,axisColor:'#444',axisW:1,yTicks:uYTicks,yLabels:uYLabels,xTicks:uXTicks,
  lowF:uLowFreq,lowD:uLowDens,highF:uHighFreq,highD:uHighDens,lowC:87.7,highC:100,lowTop:3.9,highTop:2.1,cut:null,cutTop:null,
  strip:stripC(45,305,726,744,[730,735],[731,738.5]),stripLow:uStripLow,stripHigh:uStripHigh,tickY:758,titleX:187,titleY:767,dx:24,dy:635});
drawDensity({id:'c-m',xs:scale(60,100,370.8,551.7),ys:scale(0,4,714.3,566),binStart:mBinStart,binWidth:mBinWidth,bars:mBars,
  axisX:348,axisTop:543,axisBot:720,axisColor:'#888',axisW:1.6,yTicks:mYTicks,yLabels:mYLabels,xTicks:mXTicks,
  lowF:mLowFreq,lowD:mLowDens,highF:mHighFreq,highD:mHighDens,lowC:87,highC:101.7,lowTop:3.1,highTop:3.9,cut:96.3,cutTop:1.3,
  strip:stripC(348,608,724,744,[728,734],[729,737]),stripLow:mStripLow,stripHigh:mStripHigh,tickY:758,titleX:490,titleY:767,dx:326,dy:633});

/* ---------- panel d ---------- */
(function(){
  const top = document.getElementById('d-top');
  const ysT = scale(0,1,476.3,328.3);
  drawAxisLine(top,707.7,298,707.7,494,'#333',1.4,'y-axis');
  drawAxisLine(top,772.7,298,772.7,494,'#666',.8,'low-high-divider');
  drawYTicks(top,ysT,707.7,ratioTicks,ratioLabels,11.5,'y-axis');
  const boxStyle = {boxStep:20,boxW:16,wh:1.5,bs:1.2,ms:2.3,pr:2.9,po:.6,ps:1.3};
  drawBoxes(top,Object.assign({ys:ysT,start:719.4,groupStep:65.3},boxStyle),ratioDQ1,ratioDMed,ratioDQ3,ratioDLo,ratioDHi,ratioDPts);
  drawPValue(top,741,302.5,720,760,305.5,'0.11',11.5);
  drawPValue(top,731,316.5,721,741,319,'0.52',11.5);
  drawPValue(top,803,302.5,783,822,305.5,'0.11',11.5);
  drawPValue(top,793,316.5,784,804,319,'0.52',11.5);
  const bot = document.getElementById('d-bot');
  const ysB = scale(0,1,740,591.3);
  drawAxisLine(bot,708.3,561,708.3,758,'#333',1.4,'y-axis');
  drawAxisLine(bot,772.7,561,772.7,758,'#aaa',.8,'low-high-divider');
  drawYTicks(bot,ysB,708.3,ratioTicks,ratioLabels,11.5,'y-axis');
  drawBoxes(bot,Object.assign({ys:ysB,start:720.4,groupStep:63.9},boxStyle,{boxStep:20.2}),ratioMQ1,ratioMMed,ratioMQ3,ratioMLo,ratioMHi,ratioMPts);
  drawPValue(bot,741.5,560.5,720.5,761,564,'0.0069',11.5);
  drawPValue(bot,734,575,721.5,741.5,577.5,'0.039',11.5);
  drawPValue(bot,804,560,783,823,563,'0.0069',11.5);
  drawPValue(bot,796.5,574,785,804,577,'0.039',11.5);
  drawLegend(document.getElementById('d-text'),864,18,888,[696,719,742],[706,729.5,752.5],12);
})();

/* ---------- panel f ---------- */
(function(){
  const sp = document.getElementById('f-spec');
  const yS = scale(0,120,912.3,829);
  drawSpec(sp,350.3,447,825.7,914);
  drawSpec(sp,469.3,515,825.7,914);
  drawSpec(sp,518,580.7,825.7,914);
  drawSpec(sp,583.3,674,825.7,914);
  drawSpecAxis(sp,350,yS);
  drawSpecAxis(sp,469,yS);
  specYTitle(sp,329,871);
  drawAxisLine(sp,350.3,915.7,447,915.7,'#5a3a5a',1.2,'spectrogram-baseline');
  drawAxisLine(sp,469.3,915.7,515,915.7,'#a0609a',1.2,'spectrogram-baseline');
  drawAxisLine(sp,518,915.7,580.7,915.7,'#a0609a',1.2,'spectrogram-baseline');
  drawAxisLine(sp,583.3,915.7,674,915.7,'#a0609a',1.2,'spectrogram-baseline');
  drawScaleBar(sp,416,442.7,897.7,407,910,13);
  drawScaleBar(sp,643.3,670,897.7,635,910,13);

  const g = document.getElementById('f-chart');
  const xs = scale(0,300,357,626), ys = scale(0,40,1162.7,924.3);
  drawBars(g,xs,ys,fBinStart,fBinWidth,fBars);
  drawAxisLine(g,346.3,918,346.3,1168,'#444',1,'y-axis');
  drawYTicks(g,ys,346.3,fYTicks,fYTicks.map(String),14,'y-axis');
  drawCurve(g,xs,ys,fLongMs,fLongDens,C.plum,2.4,'long-duration-curve');
  drawCurve(g,xs,ys,fShortMs,fShortDens,C.navy,2.6,'short-duration-curve');
  drawDash(g,xs(23),ys(28.5),1167,C.dashBlue,'short-center-line');
  drawDash(g,xs(44),1082,1160,'#222','cutoff-line');
  drawDash(g,xs(69),ys(3),1165,C.pink,'long-center-line');
  drawDot(g,xs(23),1167.7,4.8,C.dotBlue,'short-center-dot');
  drawTriangle(g,xs(44),1167,6);
  drawDot(g,xs(69),1167.7,4.8,C.pink,'long-center-dot');
  const cfg = {x0:346.3,x1:667.3,y0:1174.3,y1:1192.3,rows:[1176.7,1183],lab:[1180,1187.5],stroke:'#444',sw:1,line:'#222',dot:1.4,labSize:11};
  drawXLabels(g,xs,fXTicks,1207,14,1171,1174.3);
  drawStrip(g,cfg,xs,[fStrip,fStripLong]);
})();

/* ---------- panel g ---------- */
(function(){
  const g = document.getElementById('g-chart');
  const ys = scale(60,90,1166.7,933.3);
  drawAxisLine(g,775,913,775,1173,'#111',1.5,'y-axis');
  drawYTicks(g,ys,775,fqTicks,fqTicks.map(String),12,'y-axis');
  drawBoxes(g,{ys:ys,start:796.7,groupStep:62.25,boxStep:15.6,boxW:14.6,wh:1,bs:1.1,ms:1.8,pr:2.3,po:.7,ps:.7},fqQ1,fqMed,fqQ3,fqLo,fqHi,fqPts);
  fqCategories.forEach((c,i)=>{
    const cx = 811.7+62.2*i;
    drawAxisLine(g,cx-26,1171,cx+26.5,1171,'#b09a8a',1,'category-rule-'+c);
    const t = addText(g,cx,1185,c,13,'middle');
    
    
  });
  drawPValue(g,813.5,992,796.7,827.7,997.3,'0.020',11.5);
  drawPValue(g,874.5,1072,858,888.7,1077.3,'0.056',11.5);
  drawPValue(g,938.7,1019,921,952,1024.3,'0.0058',11.5);
  drawPValue(g,999.7,950,982.7,1014,955.3,'0.056',11.5);
  drawPValue(g,1061,1021.5,1044.3,1075.3,1026,'0.024',11.5);
  drawLegend(g,1112.7,18,1136.7,[1098.5,1121,1144.5],[1108.5,1131,1154],12);
})();

/* ---------- panel h ---------- */
(function(){
  const sp = document.getElementById('h-spec');
  const yS = scale(0,120,1343.3,1260);
  drawSpec(sp,377.7,411,1258.3,1345);
  drawSpec(sp,414,451,1258.3,1345);
  drawSpec(sp,453.3,486.7,1258.3,1345);
  drawSpec(sp,533.3,577.7,1258.3,1345);
  drawSpec(sp,581,634.3,1258.3,1345);
  drawSpec(sp,637.3,682.7,1258.3,1345);
  drawSpecAxis(sp,377,yS);
  drawSpecAxis(sp,533,yS);
  specYTitle(sp,358,1303);
  drawAxisLine(sp,377.7,1347.3,411,1347.3,'#6a4a6a',1,'spectrogram-baseline');
  drawAxisLine(sp,414,1347.3,451,1347.3,'#6a4a6a',1,'spectrogram-baseline');
  drawAxisLine(sp,453.3,1347.3,486.7,1347.3,'#6a4a6a',1,'spectrogram-baseline');
  drawAxisLine(sp,533.3,1347.3,577.7,1347.3,'#6a4a6a',1,'spectrogram-baseline');
  drawAxisLine(sp,581,1347.3,634.3,1347.3,'#6a4a6a',1,'spectrogram-baseline');
  drawAxisLine(sp,637.3,1347.3,682.7,1347.3,'#6a4a6a',1,'spectrogram-baseline');
  drawScaleBar(sp,456,482.7,1327.7,453.3,1341,12.5);
  drawScaleBar(sp,652.3,679,1327.7,649.3,1341,12.5);

  const g = document.getElementById('h-chart');
  const xs = scale(40,100,371.7,619.3), ys = scale(0,30,1580,1409);
  drawBars(g,xs,ys,hBinStart,hBinWidth,hBars);
  drawAxisLine(g,344.3,1364.3,344.3,1587,'#555',1,'y-axis');
  drawYTicks(g,ys,344.3,hYTicks,hYTicks.map(String),14,'y-axis');
  drawAxisLine(g,341.3,ys(10),344.3,ys(10),'#444',.8,'y-axis-minor-tick');
  drawAxisLine(g,341.3,ys(20),344.3,ys(20),'#444',.8,'y-axis-minor-tick');
  drawDash(g,xs(100),1393,1580,'#222','fqmax-threshold-line');
  drawCurve(g,xs,ys,hPeakFreq,hPeakDens,C.orange,2.5,'high-peak-curve');
  drawCurve(g,xs,ys,hMainFreq,hMainDens,C.blue,2.5,'main-peak-curve');
  drawDash(g,xs(81),1403,1579,C.dashBlue,'main-peak-center-line');
  drawDash(g,xs(107.3),1490,1579,C.dashRed,'high-peak-center-line');
  drawDot(g,xs(81),1579,5.2,C.dotBlue,'main-peak-center-dot');
  drawDot(g,xs(107.5),1579,5.2,C.dotRed,'high-peak-center-dot');
  const st = make('text',{x:xs(100),y:1584.5,'font-size':16,'text-anchor':'middle'},g);
  
  
  st.textContent = '★';
  const cfg = {x0:344.3,x1:686.7,y0:1589,y1:1611.7,rows:[1593.3,1600.4],lab:[1593.5,1603],stroke:'#111',sw:1.8,line:'#666',dot:1.9,labSize:11.5};
  drawXLabels(g,xs,hXTicks,1625.5,14,1586,1589);
  drawStrip(g,cfg,xs,[hStripMain,hStripPeak]);
})();

/* ---------- panel i ---------- */
(function(){
  const g = document.getElementById('i-chart');
  const ys = scale(0,0.25,1585.3,1278.3);
  drawAxisLine(g,775,1264.3,775,1592.7,'#555',2,'y-axis');
  drawYTicks(g,ys,775,varTicks,varLabels,11.5,'y-axis');
  drawAxisLine(g,772,ys(0.1),775,ys(0.1),'#444',.8,'y-axis-minor-tick');
  drawAxisLine(g,772,ys(0.2),775,ys(0.2),'#444',.8,'y-axis-minor-tick');
  drawBoxes(g,{ys:ys,start:802.3,groupStep:77.8,boxStep:19.5,boxW:18,wh:1,bs:1.1,ms:1.8,pr:2.3,po:.7,ps:.7},varQ1,varMed,varQ3,varLo,varHi,varPts);
  sylCategories.forEach((c,i)=>{
    const cx = 825+77.3*i;
    drawAxisLine(g,cx-26,1591.7,cx+26,1591.7,'#b09a8a',1,'syllable-rule-'+c);
    const t = addText(g,cx,1608,c,13,'middle',true);
    
    
  });
  drawPValue(g,822.7,1449,804,838.7,1454,'1.00',11.5);
  drawPValue(g,899,1339,881.3,916,1343.3,'0.0084',11.5);
  drawPValue(g,976.7,1337,957.3,994.7,1342,'0.047',11.5);
  drawPValue(g,1054,1286,1035.3,1072.7,1289.7,'0.031',11.5);
  drawLegend(g,1111.7,18,1135,[1524.5,1548,1571],[1535,1558.3,1581.7],12);
})();
</script>
</body></html>
